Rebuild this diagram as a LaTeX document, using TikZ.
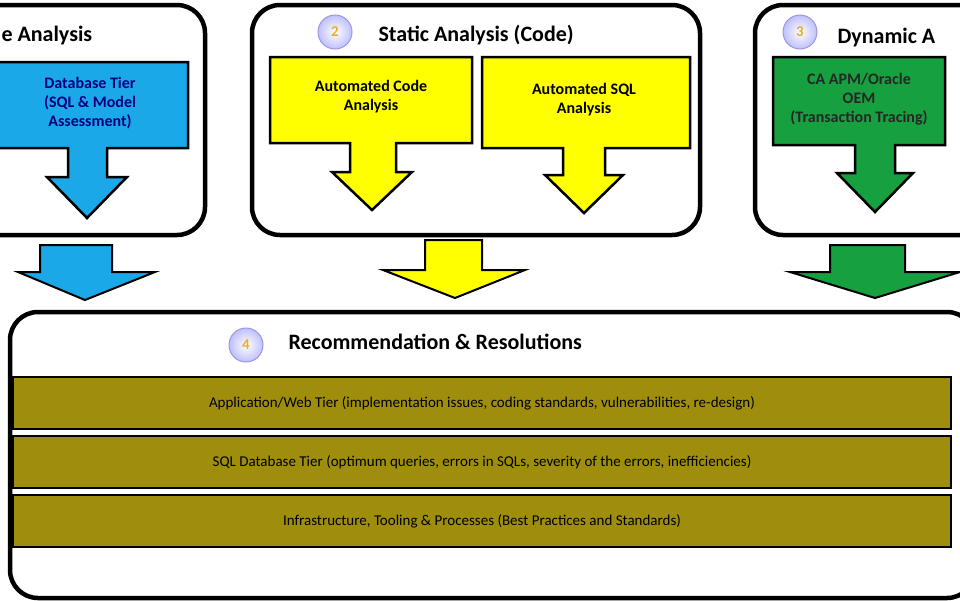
\documentclass[tikz,border=0pt]{standalone}
\usepackage{fontspec}
\setmainfont{Carlito}
\definecolor{cblue}{HTML}{1BA8E8}
\definecolor{cyel}{HTML}{FFFF00}
\definecolor{cgreen}{HTML}{16A040}
\definecolor{colive}{HTML}{9E8E0C}
\definecolor{numc}{HTML}{E8B020}
\tikzset{
 panel/.style={draw=black,line width=4.5pt,rounded corners=28pt,fill=white},
 callout/.style={draw=black,line width=2.5pt,line join=miter},
 bigarrow/.style={draw=black,line width=2pt,line join=miter},
 bar/.style={draw=black,line width=2pt,fill=colive},
 ttl/.style={font=\fontsize{22}{24}\selectfont\bfseries,anchor=west},
 btxt/.style={font=\fontsize{15}{17}\selectfont,align=center},
 ctxt/.style={font=\fontsize{16}{19}\selectfont\bfseries,align=center},
 num/.style={circle,minimum size=34pt,inner sep=0pt,draw=black!30!blue!40,line width=1pt,
   inner color=white,outer color=blue!25,text=numc,font=\fontsize{15}{15}\selectfont\bfseries}
}
\begin{document}
\begin{tikzpicture}[x=1pt,y=-1pt]
\useasboundingbox (0,0) rectangle (960,600);
\clip (0,0) rectangle (960,600);
% panels
\draw[panel] (-30,5) rectangle (205,235);
\draw[panel] (252,5) rectangle (700,235);
\draw[panel] (755,5) rectangle (1000,235);
\node[ttl] (t1) at (-2,36) {e Analysis};
\node[num] (n2) at (335,32) {2};
\node[ttl] (t2) at (375,35) {Static Analysis (Code)};
\node[num] (n3) at (800,32) {3};
\node[ttl] (t3) at (834,38) {Dynamic A};
% callouts
\draw[callout,fill=cblue] (-5,62) -- (188,62) -- (188,148) -- (107,148) -- (107,177) -- (127,177) -- (87,218) -- (47,177) -- (68,177) -- (68,148) -- (-5,148) -- cycle;
\node[ctxt,text=blue!50!black] (c1) at (90,103) {Database Tier\\ (SQL \& Model\\ Assessment)};
\draw[callout,fill=cyel] (270,57) -- (472,57) -- (472,143) -- (396,143) -- (396,172) -- (412,172) -- (372,210) -- (332,172) -- (350,172) -- (350,143) -- (270,143) -- cycle;
\node[ctxt] (c2) at (371,97) {Automated Code\\ Analysis};
\draw[callout,fill=cyel] (482,57) -- (690,57) -- (690,148) -- (605,148) -- (605,175) -- (623,175) -- (584,213) -- (545,175) -- (563,175) -- (563,148) -- (482,148) -- cycle;
\node[ctxt] (c3) at (584,100) {Automated SQL\\ Analysis};
\draw[callout,fill=cgreen] (773,57) -- (945,57) -- (945,145) -- (895,145) -- (895,173) -- (913,173) -- (875,212) -- (837,173) -- (855,173) -- (855,145) -- (773,145) -- cycle;
\node[ctxt,text=black!85] (c4) at (859,99) {CA APM/Oracle\\ OEM\\ (Transaction Tracing)};
% middle arrows
\draw[bigarrow,fill=cblue] (40,245) -- (112,245) -- (112,272) -- (155,272) -- (85,300) -- (18,272) -- (40,272) -- cycle;
\draw[bigarrow,fill=cyel] (425,240) -- (482,240) -- (482,270) -- (525,270) -- (455,298) -- (383,270) -- (425,270) -- cycle;
\draw[bigarrow,fill=cgreen] (830,245) -- (905,245) -- (905,272) -- (960,272) -- (875,298) -- (790,272) -- (830,272) -- cycle;
% bottom
\draw[panel] (10,312) rectangle (975,598);
\node[num] (n4) at (246,345) {4};
\node[ttl] (t4) at (285,342) {Recommendation \& Resolutions};
\node[bar,minimum width=938pt,minimum height=52pt,anchor=north west,inner sep=0pt] (b1) at (12,376) {};
\node[btxt] at (b1.center) {Application/Web Tier (implementation issues, coding standards, vulnerabilities, re-design)};
\node[bar,minimum width=938pt,minimum height=52pt,anchor=north west,inner sep=0pt] (b2) at (12,435) {};
\node[btxt] at (b2.center) {SQL Database Tier (optimum queries, errors in SQLs, severity of the errors, inefficiencies)};
\node[bar,minimum width=938pt,minimum height=52pt,anchor=north west,inner sep=0pt] (b3) at (12,494) {};
\node[btxt] at (b3.center) {Infrastructure, Tooling \& Processes (Best Practices and Standards)};
\end{tikzpicture}
\end{document}
